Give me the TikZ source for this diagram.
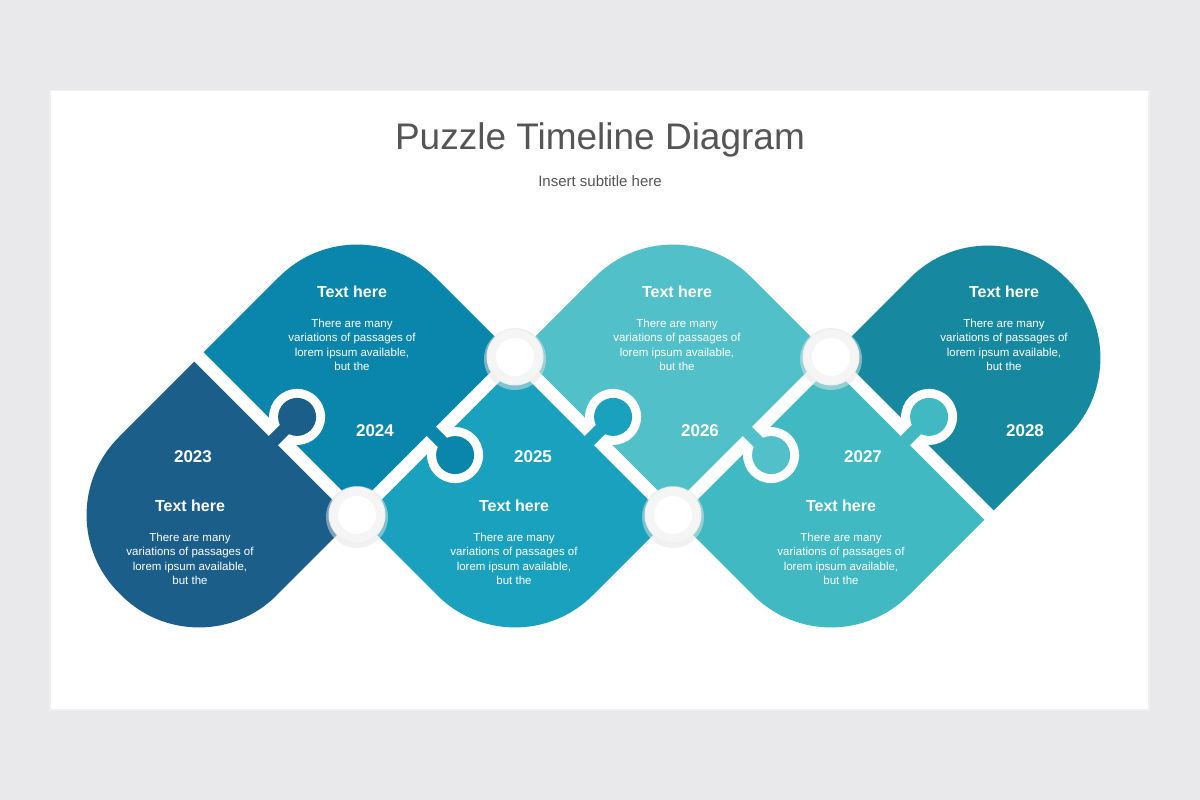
\documentclass[tikz,border=0pt]{standalone}
\usepackage{fontspec}
\setmainfont{Liberation Sans}
\definecolor{bgc}{HTML}{E9E8EA}
\definecolor{cA}{HTML}{1B5E8A}
\definecolor{cB}{HTML}{0A86AC}
\definecolor{cC}{HTML}{1AA1BD}
\definecolor{cD}{HTML}{52C0C8}
\definecolor{cE}{HTML}{41B9C2}
\definecolor{cF}{HTML}{1689A0}
\definecolor{titlec}{HTML}{555555}
\newcommand\PzBot[3]{\fill[#3] (#1,#2) ++(0,158) -- ++(158,-158) -- ++(-80.22,-80.22) arc[start angle=-45,end angle=-135,radius=110] -- ++(-80.22,80.22) -- cycle;}
\newcommand\PzTop[3]{\fill[#3] (#1,#2) ++(-158,0) -- ++(80.22,80.22) arc[start angle=135,end angle=45,radius=110] -- ++(80.22,-80.22) -- ++(-158,-158) -- cycle;}
\newcommand\Knob[5]{% mid x, mid y, dx, dy (unit dir), color
 \fill[white] (#1+27*#3,#2+27*#4) circle (28);
 \draw[white,line width=30] (#1,#2) -- (#1+27*#3,#2+27*#4);
 \draw[#5,line width=13] (#1-12*#3,#2-12*#4) -- (#1+27*#3,#2+27*#4);
 \fill[#5] (#1+27*#3,#2+27*#4) circle (19);}
\begin{document}
\begin{tikzpicture}[x=1pt,y=1pt,
  ttl/.style={font=\bfseries\fontsize{16}{18}\selectfont,text=white},
  body/.style={font=\fontsize{11.5}{14.5}\selectfont,text=white,align=center},
  yr/.style={font=\bfseries\fontsize{17}{19}\selectfont,text=white},
  seam/.style={white,line width=13},
  jring/.style={fill=black!4,draw=black!6,line width=1}]
\useasboundingbox (0,0) rectangle (1200,800);
\fill[bgc] (0,0) rectangle (1200,800);
\fill[black!6] (49,89) rectangle (1150,710);
\fill[white] (51,91) rectangle (1148,709);
\node[font=\fontsize{37}{40}\selectfont,text=titlec] (title) at (600,660) {Puzzle Timeline Diagram};
\node[font=\fontsize{15}{17}\selectfont,text=titlec] (sub) at (600,619) {Insert subtitle here};
% pieces
\fill[cA] (199,443) -- (357,285) -- ++(-80.22,-80.22) arc[start angle=-45,end angle=-135,radius=110] -- ++(-2.44,2.44) arc[start angle=225,end angle=135,radius=110] -- cycle;
\PzTop{357}{443}{cB}
\PzBot{515}{285}{cC}
\PzTop{673}{443}{cD}
\PzBot{831}{285}{cE}
\fill[cF] (831,443) -- (910.22,522.22) arc[start angle=135,end angle=45,radius=110] -- ++(2.44,-2.44) arc[start angle=45,end angle=-45,radius=110] -- (989,285) -- cycle;
% seams
\draw[seam] (190,452) -- (357,285) -- (524,452);
\draw[seam] (515,443) -- (673,285) -- (840,452);
\draw[seam] (682,276) -- (673,285);
\draw[seam] (831,443) -- (998,276);
\draw[seam] (348,276) -- (357,285);
% knobs
\Knob{278}{364}{0.7071}{0.7071}{cA}
\Knob{436}{364}{0.7071}{-0.7071}{cB}
\Knob{594}{364}{0.7071}{0.7071}{cC}
\Knob{752}{364}{0.7071}{-0.7071}{cD}
\Knob{910}{364}{0.7071}{0.7071}{cE}
% joints
\foreach \n/\x/\y in {j1/357/285,j2/515/443,j3/673/285,j4/831/443}{
  \fill[black!10,opacity=0.5] (\x,\y-2) circle (31);
  \node[circle,jring,minimum size=56pt,inner sep=0] (\n o) at (\x,\y) {};
  \node[circle,fill=white,minimum size=38pt,inner sep=0] (\n) at (\x,\y) {};
}
% texts top pieces
\foreach \n/\x/\yx/\yv in {b/352/375/2024,d/677/700/2026,f/1004/1025/2028}{
  \node[ttl] (t\n) at (\x,508) {Text here};
  \node[body] (b\n) at (\x,455) {There are many\\variations of passages of\\lorem ipsum available,\\but the};
  \node[yr] (y\n) at (\yx,369) {\yv};
}
\foreach \n/\x/\yx/\yv in {a/190/193/2023,c/514/533/2025,e/841/863/2027}{
  \node[ttl] (t\n) at (\x,294) {Text here};
  \node[body] (b\n) at (\x,241) {There are many\\variations of passages of\\lorem ipsum available,\\but the};
  \node[yr] (y\n) at (\yx,343) {\yv};
}
\end{tikzpicture}
\end{document}
